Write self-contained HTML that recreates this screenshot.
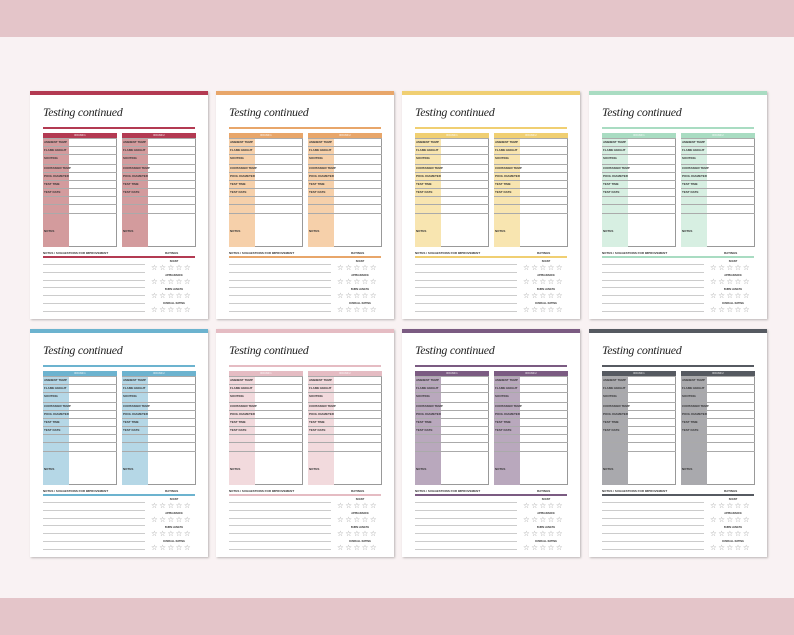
<!DOCTYPE html>
<html><head><meta charset="utf-8">
<style>
body{margin:0;width:794px;height:635px;overflow:hidden;background:#f9f2f3;font-family:"Liberation Sans",sans-serif;position:relative}
.band{position:absolute;left:0;width:794px;background:#e4c5c9}
.page{position:absolute;width:178px;height:228px;background:#fff;box-shadow:1px 1px 2px rgba(0,0,0,.25);overflow:hidden}
.page div{position:absolute;box-sizing:border-box}
.t{font-size:3px;color:#333;white-space:nowrap;font-weight:bold}
.title{font-family:"Liberation Serif",serif;font-style:italic;font-size:12px;color:#222;left:13px;top:14px;letter-spacing:-0.3px}
.star{font-size:7.5px;color:#999;line-height:8px;white-space:nowrap}
</style></head><body>
<div class="band" style="top:0;height:37px"></div>
<div class="band" style="top:598px;height:37px"></div>
<div id="wrap"></div>
<script>
const dark=['#b33a52','#e8a66a','#f0cf72','#a9dcc2','#6cb3cf','#e5bcc3','#7b5b82','#565a61'];
const tint=['#d39b9d','#f6d0aa','#f8e5b0','#d7efe2','#b5d7e6','#f2dadd','#b9a8bd','#a9a9ad'];
const lefts=[30,216,402,589],tops=[91,329];
const labels=['AMBIENT TEMP','FLAME HEIGHT','SOOTING','CONTAINER TEMP','POOL DIAMETER','TEST TIME','TEST DATE','',''];
const rowY=[47,55,63,73,81,89,97,105,113,122];
const wrap=document.getElementById('wrap');
function d(p,css,txt,name){const e=document.createElement('div');e.style.cssText=css;if(txt)e.textContent=txt;


p.appendChild(e);return e;}
for(let i=0;i<8;i++){
 const c=dark[i],t=tint[i];
 const p=document.createElement('div');p.className='page';
 p.style.left=lefts[i%4]+'px';p.style.top=tops[Math.floor(i/4)]+'px';
 
 
 wrap.appendChild(p);
 d(p,`left:0;top:0;width:178px;height:4px;background:${c}`,'','page-top-bar');
 const ti=d(p,'','Testing continued','page-title');ti.className='title';
 d(p,`left:13px;top:36px;width:152px;height:1.5px;background:${c}`,'','title-rule');
 [13,92].forEach((bx,k)=>{
  d(p,`left:${bx}px;top:42px;width:74px;height:114px;border:0.6px solid #999`,'','round-box');
  d(p,`left:${bx}px;top:42px;width:74px;height:5px;background:${c};color:#fff;font-size:2.5px;text-align:center;line-height:5px`,'ROUND '+(k+1),'round-header');
  d(p,`left:${bx}px;top:47px;width:26px;height:109px;background:${t}`,'','label-column');
  for(let r=0;r<rowY.length;r++){
   d(p,`left:${bx}px;top:${rowY[r]}px;width:74px;height:0.6px;background:#aaa`,'','row-line');
   if(r<labels.length&&labels[r]){const l=d(p,`left:${bx+1}px;top:${rowY[r]+2}px`,labels[r],'row-label');l.className='t';}
  }
  const n=d(p,`left:${bx+1}px;top:138px`,'NOTES','notes-label');n.className='t';
 });
 let a=d(p,'left:13px;top:160px','NOTES / SUGGESTIONS FOR IMPROVEMENT','notes-heading');a.className='t';
 a=d(p,'left:135px;top:160px','RATINGS','ratings-heading');a.className='t';
 d(p,`left:13px;top:165px;width:152px;height:1.5px;background:${c}`,'','notes-rule');
 for(let k=0;k<7;k++)d(p,`left:13px;top:${173+k*7.8}px;width:102px;height:0.6px;background:#ccc`,'','note-line');
 ['SCENT','APPEARANCE','BURN LENGTH','OVERALL RATING'].forEach((lab,k)=>{
  const y=172+k*14;
  const l=d(p,`left:122px;top:${y-3}px;width:44px;text-align:center;font-size:2.5px`,lab,'rating-label');l.className='t';
  const s=d(p,`left:121px;top:${y+1}px;width:50px;letter-spacing:1.5px`,'☆☆☆☆☆','rating-stars');s.className='star';
 });
}
</script>
</body></html>
